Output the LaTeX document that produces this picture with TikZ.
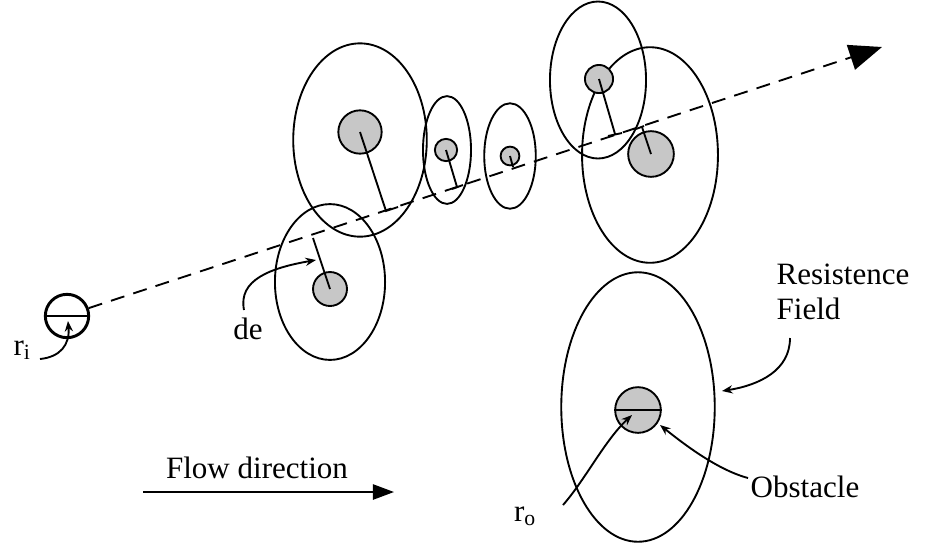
\documentclass[tikz,border=0pt]{standalone}
\usepackage{fontspec}
\setmainfont{Liberation Serif}
\usetikzlibrary{shapes.geometric,arrows.meta}
\begin{document}
\begin{tikzpicture}[x=0.03cm,y=-0.03cm,
  field/.style={draw,ellipse,line width=1.6pt,inner sep=0pt},
  obs/.style={draw,circle,fill=black!22,line width=1.6pt,inner sep=0pt},
  lbl/.style={font=\fontsize{26.5}{30}\selectfont,inner sep=1pt},
  arr/.style={-{Stealth[length=9pt,width=7pt]},line width=1.6pt},
  seg/.style={line width=1.6pt}]
\useasboundingbox (0,0) rectangle (929,546);
% fields
\node[field,minimum width=114pt,minimum height=165pt] (f1) at (360,140) {};
\node[field,minimum width=41pt,minimum height=92pt] (f2) at (447,150) {};
\node[field,minimum width=44pt,minimum height=90pt] (f3) at (510,156) {};
\node[field,minimum width=82pt,minimum height=134pt] (f4) at (598,80) {};
\node[field,minimum width=116pt,minimum height=184pt] (f5) at (650,155) {};
\node[field,minimum width=94pt,minimum height=133pt] (f6) at (330,282) {};
\node[field,minimum width=131pt,minimum height=230pt] (f7) at (638,407) {};
% obstacles
\node[obs,minimum size=37pt] (o1) at (360,132) {};
\node[obs,minimum size=19pt] (o2) at (446,150) {};
\node[obs,minimum size=16pt] (o3) at (510,156) {};
\node[obs,minimum size=24pt] (o4) at (599,79) {};
\node[obs,minimum size=39pt] (o5) at (651,154) {};
\node[obs,minimum size=29pt] (o6) at (330,289) {};
\node[obs,minimum size=39pt] (o7) at (638,410) {};
\draw[seg] (o7.west) -- (o7.east);
% inlet
\node[draw,circle,line width=2.5pt,minimum size=37pt,inner sep=0pt] (ri) at (67,316) {};
\draw[line width=2.5pt] (ri.west) -- (ri.east);
% flow path
\coordinate (tip) at (882,47);
\draw[dash pattern=on 12pt off 8pt,line width=1.6pt] (ri.20) -- (858,55);
\draw[-{Triangle[length=28pt,width=22pt]},line width=1.6pt] (860,54.3) -- (tip);
% distance lines with ticks
\coordinate (t1) at (386,211); \coordinate (t1b) at (398,207);
\draw[seg] (o1.center) -- (t1) -- (t1b);
\coordinate (t2) at (457,187); \coordinate (t2a) at (452,189); \coordinate (t2b) at (463,185);
\draw[seg] (o2.center) -- (t2); \draw[seg] (t2a) -- (t2b);
\coordinate (t3) at (513,167);
\draw[seg] (o3.center) -- (t3);
\coordinate (t4) at (615,134); \coordinate (t4a) at (608,136); \coordinate (t4b) at (622,133);
\draw[seg] (o4.center) -- (t4); \draw[seg] (t4a) -- (t4b);
\coordinate (t5) at (642,127); \coordinate (t5a) at (636,129); \coordinate (t5b) at (644,126);
\draw[seg] (o5.center) -- (t5); \draw[seg] (t5a) -- (t5b);
\coordinate (t6) at (313,238);
\draw[seg] (o6.center) -- (t6);
% labels
\node[lbl] (lri) at (22,350) {r\textsubscript{i}};
\draw[arr] (40,359) .. controls (60,357) and (70,345) .. (68,321);
\node[lbl] (lde) at (248,329) {de};
\draw[arr] (244,310) .. controls (238,280) and (270,268) .. (316,260);
\node[lbl,align=left] (lrf) at (843,292) {Resistence\\Field};
\draw[arr] (790,338) .. controls (790,370) and (760,385) .. (722,391);
\node[lbl] (lob) at (805,487) {Obstacle};
\draw[arr] (748,478) .. controls (718,470) and (685,445) .. (660,425);
\node[lbl] (lro) at (525,516) {r\textsubscript{o}};
\draw[arr] (563,505) .. controls (585,480) and (605,440) .. (632,415);
\node[lbl] (lfd) at (257,468) {Flow direction};
\coordinate (fa) at (143,492); \coordinate (fb) at (394,492);
\draw[-{Triangle[length=18pt,width=13pt]},line width=1.6pt] (fa) -- (fb);
\end{tikzpicture}
\end{document}
